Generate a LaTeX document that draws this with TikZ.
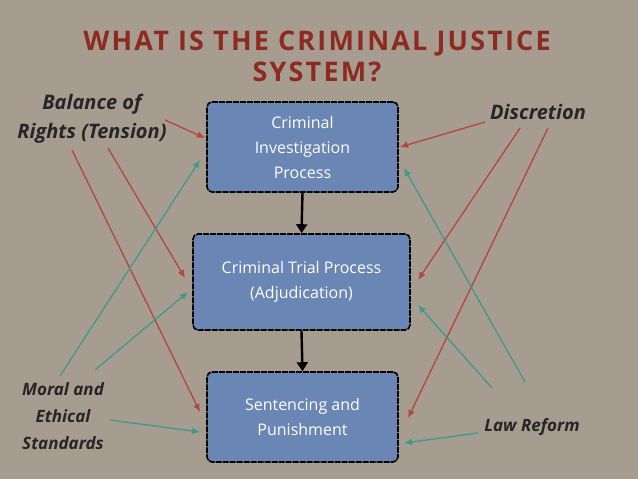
\documentclass[tikz,border=0pt]{standalone}
\usepackage{fontspec}
\setmainfont{Open Sans}
\newfontfamily\titlefont[LetterSpace=8]{Open Sans}
\usetikzlibrary{arrows.meta}
\definecolor{bg}{HTML}{A69D90}
\definecolor{tred}{HTML}{8E2B20}
\definecolor{bfill}{HTML}{6A86B4}
\definecolor{ared}{HTML}{B4463C}
\definecolor{ateal}{HTML}{3E9A8E}
\tikzset{
 box/.style={draw=black,line width=1.6pt,dash pattern=on 6pt off 1pt,fill=bfill,rounded corners=5pt,text=white,font=\fontsize{16}{25}\selectfont,align=center,inner sep=0pt},
 lab/.style={font=\bfseries\itshape\fontsize{20}{29}\selectfont,text=black!85,align=center},
 rarr/.style={draw=ared,line width=1.3pt,-{Latex[length=8pt,width=7pt]}},
 tarr/.style={draw=ateal,line width=1.3pt,-{Latex[length=8pt,width=7pt]}},
 darr/.style={draw=black,line width=2.4pt,-{Triangle[length=9pt,width=11pt]}}
}
\begin{document}
\begin{tikzpicture}[x=1pt,y=-1pt]
\fill[bg] (0,0) rectangle (638,479);
\useasboundingbox (0,0) rectangle (638,479);
\node (title)[font=\titlefont\bfseries\fontsize{27}{31}\selectfont,text=tred,align=center] at (317,56) {WHAT IS THE CRIMINAL JUSTICE\\SYSTEM?};
\node (b1)[box,minimum width=191pt,minimum height=90pt] at (302.5,147) {Criminal\\Investigation\\Process};
\node (b2)[box,minimum width=217pt,minimum height=96pt] at (301.5,282) {Criminal Trial Process\\(Adjudication)};
\node (b3)[box,minimum width=191pt,minimum height=90pt] at (302.5,417) {Sentencing and\\Punishment};
\draw[darr] (b1.south) -- (b2.north);
\draw[darr] (b2.south) -- (b3.north);
\node (bal)[lab] at (92,119) {Balance of\\Rights (Tension)};
\node (dis)[lab] at (538,112) {Discretion};
\node (mor)[lab,font=\bfseries\itshape\fontsize{17}{27}\selectfont] at (63,416) {Moral and\\Ethical\\Standards};
\node (law)[lab,font=\bfseries\itshape\fontsize{17}{27}\selectfont] at (532,427) {Law Reform};
\coordinate (r1s) at (165,120); \coordinate (r1e) at (205,138);
\coordinate (r2s) at (108,148); \coordinate (r2e) at (185,278);
\coordinate (r3s) at (72,150); \coordinate (r3e) at (200,412);
\coordinate (r4s) at (485,122); \coordinate (r4e) at (400,147);
\coordinate (r5s) at (520,128); \coordinate (r5e) at (418,280);
\coordinate (r6s) at (548,128); \coordinate (r6e) at (408,418);
\draw[rarr] (r1s) -- (r1e); \draw[rarr] (r2s) -- (r2e); \draw[rarr] (r3s) -- (r3e);
\draw[rarr] (r4s) -- (r4e); \draw[rarr] (r5s) -- (r5e); \draw[rarr] (r6s) -- (r6e);
\coordinate (t1s) at (60,376); \coordinate (t1e) at (200,160);
\coordinate (t2s) at (95,370); \coordinate (t2e) at (188,292);
\coordinate (t3s) at (110,420); \coordinate (t3e) at (200,432);
\coordinate (t4s) at (525,382); \coordinate (t4e) at (404,168);
\coordinate (t5s) at (492,388); \coordinate (t5e) at (418,305);
\coordinate (t6s) at (478,433); \coordinate (t6e) at (404,443);
\draw[tarr] (t1s) -- (t1e); \draw[tarr] (t2s) -- (t2e); \draw[tarr] (t3s) -- (t3e);
\draw[tarr] (t4s) -- (t4e); \draw[tarr] (t5s) -- (t5e); \draw[tarr] (t6s) -- (t6e);
\end{tikzpicture}
\end{document}
